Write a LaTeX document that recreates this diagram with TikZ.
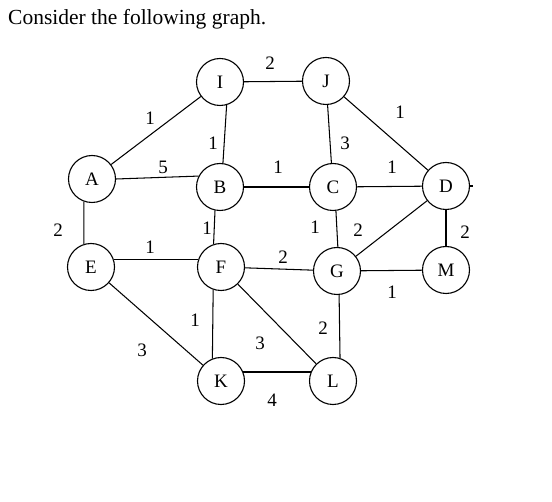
\documentclass[tikz,border=0pt]{standalone}
\usepackage{fontspec}
\setmainfont{Liberation Serif}
\begin{document}
\begin{tikzpicture}[x=1pt,y=-1pt,
  vtx/.style={circle,draw,line width=1.1pt,minimum size=47pt,inner sep=0pt,font=\fontsize{19}{20}\selectfont},
  wt/.style={inner sep=0pt,font=\fontsize{19}{20}\selectfont},
  edge/.style={line width=1.05pt}]
\useasboundingbox (0,0) rectangle (552,502);
\node[anchor=base west,inner sep=0pt,font=\fontsize{21.5}{24}\selectfont] (title) at (8,25) {Consider the following graph.};
\node[vtx] (I) at (220,82) {I};
\node[vtx] (J) at (326,81) {J};
\node[vtx] (A) at (92,179) {A};
\node[vtx] (B) at (220,187) {B};
\node[vtx] (C) at (333,187) {C};
\node[vtx] (D) at (446,186) {D};
\node[vtx] (E) at (91,267) {E};
\node[vtx] (F) at (221,267) {F};
\node[vtx] (G) at (337,271) {G};
\node[vtx] (M) at (446,270) {M};
\node[vtx] (K) at (221,381) {K};
\node[vtx] (L) at (333,381) {L};
\coordinate (Dstub) at (473,186);
\draw[edge] (A) -- (I);
\draw[edge] (A.east) -- (B.153);
\draw[edge] (I) -- (J);
\draw[edge] (I.-74) -- (B.83);
\draw[edge] (J) -- (C);
\draw[edge] (J) -- (D);
\draw[edge] (B) -- (C);
\draw[edge] (C) -- (D);
\draw[edge] (A.-110) -- (E.107);
\draw[edge] (B.-102) -- (F.108);
\draw[edge] (C.-83) -- (G.88);
\draw[edge] (G) -- (D);
\draw[edge] (D) -- (M);
\draw[edge] (E.17) -- (F.163);
\draw[edge] (F) -- (G);
\draw[edge] (G) -- (M);
\draw[edge] (E) -- (K);
\draw[edge] (F.-109) -- (K.111);
\draw[edge] (F) -- (L);
\draw[edge] (G.-85) -- (L.73);
\draw[edge] (K.22) -- (L.158);
\draw[edge] (D.east) -- (Dstub);
\node[wt] (wAI) at (150,118) {1};
\node[wt] (wAB) at (163,167) {5};
\node[wt] (wIB) at (213,143) {1};
\node[wt] (wIJ) at (270,63) {2};
\node[wt] (wBC) at (278,167) {1};
\node[wt] (wJC) at (345,143) {3};
\node[wt] (wJD) at (400,112) {1};
\node[wt] (wCD) at (392,167) {1};
\node[wt] (wAE) at (58,230) {2};
\node[wt] (wBF) at (207,228) {1};
\node[wt] (wEF) at (150,247) {1};
\node[wt] (wCG) at (315,227) {1};
\node[wt] (wGD) at (358,230) {2};
\node[wt] (wDM) at (465,232) {2};
\node[wt] (wFG) at (283,257) {2};
\node[wt] (wGM) at (392,292) {1};
\node[wt] (wEK) at (142,350) {3};
\node[wt] (wFK) at (195,320) {1};
\node[wt] (wFL) at (260,343) {3};
\node[wt] (wGL) at (323,328) {2};
\node[wt] (wKL) at (272,400) {4};
\end{tikzpicture}
\end{document}
